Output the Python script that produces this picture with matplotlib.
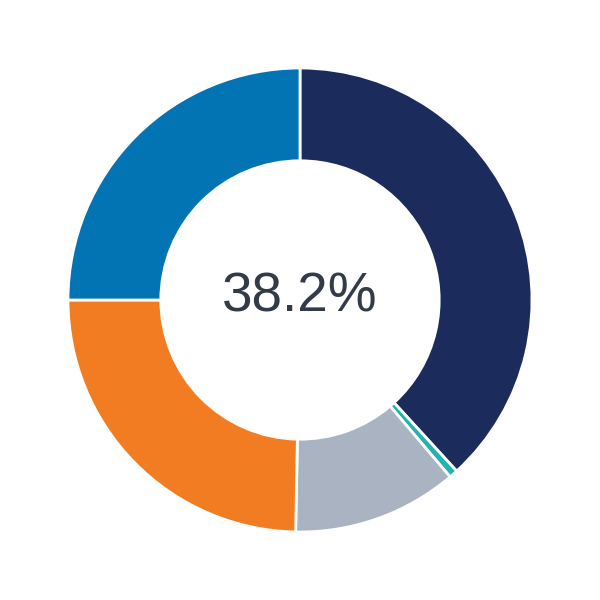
import matplotlib
matplotlib.use("Agg")
import matplotlib.pyplot as plt

# slice shares in percent, clockwise from 12 o'clock
labels = ["Navy", "Teal", "Gray", "Orange", "Blue"]
shares = [38.2, 0.6, 11.5, 24.7, 25.0]
colors = ["#1b2b5b", "#22b3ae", "#a9b3c1", "#f27c21", "#0274b4"]
center_label = "38.2%"

fig = plt.figure(figsize=(6, 6), dpi=100)
ax = fig.add_axes([0, 0, 1, 1])

ax.pie(shares, colors=colors, startangle=90, counterclock=False,
       radius=1.0,
       wedgeprops=dict(width=0.4, edgecolor="white", linewidth=2))

ax.text(0, 0.01, center_label, ha="center", va="center",
        fontsize=39.5, color="#333a48", family=["Liberation Sans", "DejaVu Sans"])

lim = 300 / 232
ax.set_xlim(-lim, lim)
ax.set_ylim(-lim, lim)
ax.set_aspect("equal")
ax.axis("off")

fig.savefig("out.png", dpi=100, facecolor="white")
